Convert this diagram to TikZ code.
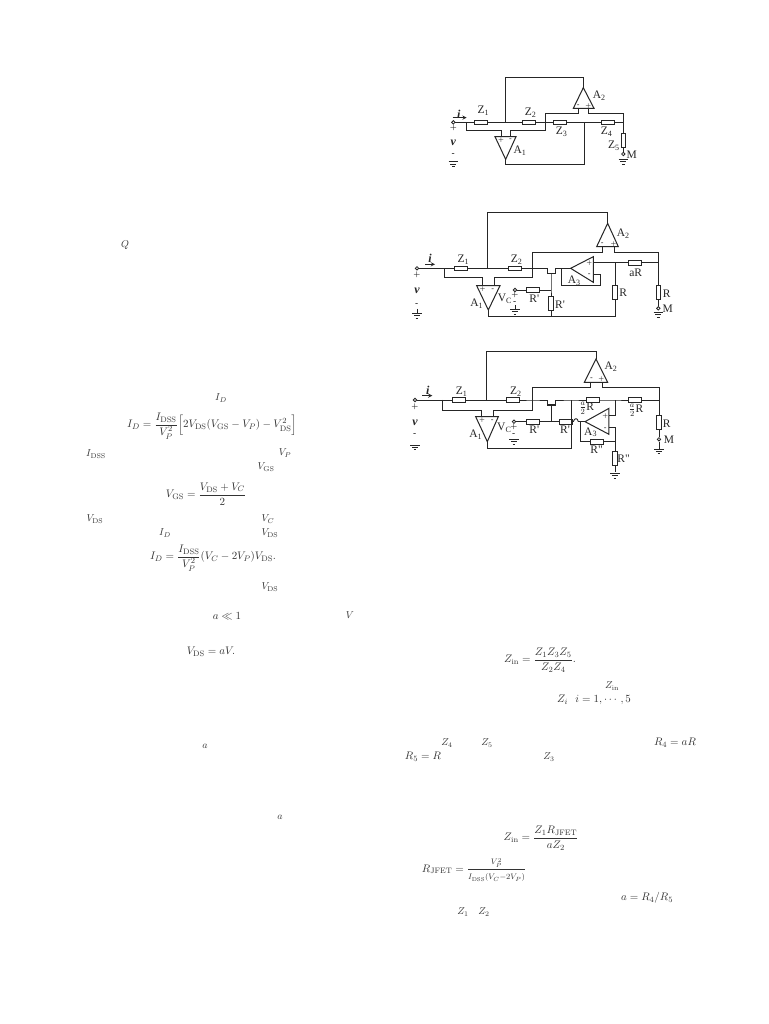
\documentclass[tikz,border=0pt]{standalone}
\usepackage{fontspec}
\usepackage{amsmath,amssymb}
\newfontfamily\serf{Liberation Serif}
\tikzset{
  wire/.style={draw=black!85,line width=0.9pt},
  amp/.style={draw=black!85,line width=1pt,fill=white},
  resh/.style={draw=black!85,line width=0.8pt,fill=white,rectangle,inner sep=0pt,minimum width=13pt,minimum height=4.6pt},
  resv/.style={draw=black!85,line width=0.8pt,fill=white,rectangle,inner sep=0pt,minimum width=4.6pt,minimum height=14pt},
  term/.style={draw=black!85,line width=0.8pt,fill=white,circle,inner sep=0pt,minimum size=3.4pt},
  lab/.style={inner sep=0pt,font=\fontsize{11.5}{12}\selectfont\serf,text=black!85},
  bit/.style={inner sep=0pt,font=\fontsize{12}{12}\selectfont\serf\bfseries\itshape,text=black!85},
  sgn/.style={inner sep=0pt,font=\fontsize{7}{7}\selectfont\bfseries,text=black!85},
  tiny/.style={inner sep=0pt,font=\fontsize{5.5}{5}\selectfont\bfseries,text=black!85},
  eq/.style={inner sep=0pt,font=\fontsize{10}{12}\selectfont,text=black!80},
  eqb/.style={inner sep=0pt,font=\fontsize{11.3}{13}\selectfont,text=black!80},
  gndsym/.pic={\draw[line width=0.8pt,draw=black!85] (-14,0)--(14,0) (-9,7)--(9,7) (-4,14)--(4,14);}
}
\begin{document}
\begin{tikzpicture}[x=1pt,y=-1pt]
\useasboundingbox (0,0) rectangle (768,1024);
\fill[white] (0,0) rectangle (768,1024);

% ---------- circuit 1
\begin{scope}[shift={(440,65)},x=0.3333pt,y=-0.3333pt]
\coordinate (a1) at (40,172); \coordinate (a2) at (78,172); \coordinate (a3) at (195,172);
\coordinate (a4) at (315,172); \coordinate (a5) at (433,172); \coordinate (a6) at (550,172);
\coordinate (a7) at (78,197); \coordinate (a8) at (183,197); \coordinate (a9) at (183,215);
\coordinate (a10) at (212,215); \coordinate (a11) at (212,197); \coordinate (a12) at (315,197);
\coordinate (a13) at (197,283); \coordinate (a14) at (197,297); \coordinate (a15) at (433,297);
\coordinate (a16) at (430,68); \coordinate (a17) at (430,38); \coordinate (a18) at (195,38);
\coordinate (a19) at (415,130); \coordinate (a20) at (415,145); \coordinate (a21) at (315,145);
\coordinate (a22) at (445,130); \coordinate (a23) at (445,145); \coordinate (a24) at (550,145);
\node[term] (t1) at (40,172) {};
\node[term] (m1) at (550,267) {};
\node[resh] (z1) at (123,172) {};
\node[resh] (z2) at (268,172) {};
\node[resh] (z3) at (359,172) {};
\node[resh] (z4) at (505,172) {};
\node[resv] (z5) at (550,227) {};
\draw[wire] (t1)--(z1)--(z2)--(z3)--(z4)--(a6)--(z5)--(m1);
\draw[wire] (a2)--(a7)--(a8)--(a9) (a10)--(a11)--(a12)--(a4);
\draw[wire] (a13)--(a14)--(a15)--(a5);
\draw[wire] (a16)--(a17)--(a18)--(a3);
\draw[wire] (a19)--(a20)--(a21)--(a4) (a22)--(a23)--(a24)--(a6);
\draw[amp] (165,215)--(228,215)--(a13)--cycle;
\draw[amp] (400,130)--(462,130)--(a16)--cycle;
\node[tiny] (p1) at (183,224) {+}; \node[tiny] (n1) at (212,224) {-};
\node[tiny] (p2) at (415,122) {-}; \node[tiny] (n2) at (445,122) {+};
\pic at (550,283) {gndsym};
\pic at (40,290) {gndsym};
\node[sgn] (t2) at (40,188) {+};
\node[sgn] (t3) at (40,268) {-};
\draw[wire,-stealth] (38,158)--(80,158);
\node[bit] (li) at (56,148) {i};
\node[bit] (lv) at (40,232) {v};
\node[lab] (l1) at (130,138) {Z\textsubscript{1}};
\node[lab] (l2) at (272,143) {Z\textsubscript{2}};
\node[lab] (l3) at (365,200) {Z\textsubscript{3}};
\node[lab] (l4) at (500,200) {Z\textsubscript{4}};
\node[lab] (l5) at (522,242) {Z\textsubscript{5}};
\node[lab] (l6) at (575,270) {M};
\node[lab] (l7) at (240,258) {A\textsubscript{1}};
\node[lab] (l8) at (478,92) {A\textsubscript{2}};
\end{scope}

% ---------- circuit 2
\begin{scope}[shift={(405,205)},x=0.3333pt,y=-0.3333pt]
\node[term] (bt) at (36,190) {};
\coordinate (b1) at (117,190); \coordinate (b2) at (248,190); \coordinate (b3) at (383,190);
\coordinate (b4) at (428,190); \coordinate (b5) at (428,205); \coordinate (b6) at (452,205);
\coordinate (b7) at (452,190); \coordinate (b8) at (470,190); \coordinate (b9) at (497,190);
\coordinate (b10) at (117,218); \coordinate (b11) at (232,218); \coordinate (b12) at (232,242);
\coordinate (b13) at (268,242); \coordinate (b14) at (268,218); \coordinate (b15) at (383,218);
\coordinate (b16) at (250,315); \coordinate (b17) at (250,335); \coordinate (b18) at (630,335);
\coordinate (b19) at (248,22); \coordinate (b20) at (608,22); \coordinate (b21) at (608,55);
\coordinate (b22) at (592,125); \coordinate (b23) at (592,143); \coordinate (b24) at (383,143);
\coordinate (b25) at (628,125); \coordinate (b26) at (628,143); \coordinate (b27) at (760,143);
\coordinate (b28) at (760,173); \coordinate (b29) at (630,173); \coordinate (b30) at (565,173);
\coordinate (b31) at (470,240); \coordinate (b32) at (585,240); \coordinate (b33) at (585,207);
\coordinate (b34) at (565,207); \coordinate (b35) at (438,205); \coordinate (b36) at (438,255);
\coordinate (b37) at (438,335);
\node[resh] (bz1) at (167,190) {};
\node[resh] (bz2) at (330,190) {};
\node[resh] (br1) at (385,255) {};
\node[resv] (br2) at (438,294) {};
\node[resh] (bar) at (689,173) {};
\node[resv] (br3) at (630,262) {};
\node[resv] (br4) at (760,262) {};
\node[term] (bm) at (760,310) {};
\node[term] (bvc) at (330,255) {};
\draw[wire] (bt)--(bz1)--(bz2)--(b3)--(b4)--(b5)--(b6)--(b7)--(b9);
\draw[wire] (b1)--(b10)--(b11)--(b12) (b13)--(b14)--(b15)--(b3);
\draw[wire] (b16)--(b17)--(b18)--(br3)--(b29);
\draw[wire] (b2)--(b19)--(b20)--(b21);
\draw[wire] (b22)--(b23)--(b24)--(b3) (b25)--(b26)--(b27)--(b28)--(br4)--(bm);
\draw[wire] (b30)--(bar)--(b28);
\draw[wire] (b8)--(b31)--(b32)--(b33)--(b34);
\draw[wire] (b35)--(b36)--(br2)--(b37) (bvc)--(br1)--(b36);
\draw[amp] (215,242)--(285,242)--(b16)--cycle;
\draw[amp] (575,125)--(640,125)--(b21)--cycle;
\draw[amp] (565,155)--(565,232)--(b9)--cycle;
\draw[wire,line width=1.3pt] (b5)--(b6);
\node[tiny] (bp1) at (233,253) {+}; \node[tiny] (bn1) at (264,253) {-};
\node[tiny] (bp2) at (592,116) {-}; \node[tiny] (bn2) at (626,116) {+};
\node[tiny] (bp3) at (553,175) {+}; \node[tiny] (bn3) at (553,210) {-};
\pic at (760,322) {gndsym};
\pic at (36,325) {gndsym};
\pic at (330,313) {gndsym};
\draw[wire] (36,312)--(36,325) (330,300)--(330,313);
\node[sgn] (bt2) at (36,208) {+};
\node[sgn] (bt3) at (36,300) {-};
\node[sgn] (bt4) at (330,270) {+};
\node[sgn] (bt5) at (330,294) {-};
\draw[wire,-stealth] (60,178)--(90,178);
\node[bit] (bli) at (75,160) {i};
\node[bit] (blv) at (36,258) {v};
\node[lab] (bl1) at (175,165) {Z\textsubscript{1}};
\node[lab] (bl2) at (335,165) {Z\textsubscript{2}};
\node[lab] (bl3) at (215,295) {A\textsubscript{1}};
\node[lab] (bl4) at (300,282) {V\textsubscript{C}};
\node[lab] (bl5) at (388,282) {R'};
\node[lab] (bl6) at (465,298) {R'};
\node[lab] (bl7) at (508,227) {A\textsubscript{3}};
\node[lab] (bl8) at (692,203) {aR};
\node[lab] (bl9) at (655,263) {R};
\node[lab] (bl10) at (785,265) {R};
\node[lab] (bl11) at (788,312) {M};
\node[lab] (bl12) at (655,87) {A\textsubscript{2}};
\end{scope}

% ---------- circuit 3
\begin{scope}[shift={(405,345)},x=0.3333pt,y=-0.3333pt]
\node[term] (ct) at (30,165) {};
\coordinate (c1) at (112,165); \coordinate (c2) at (245,165); \coordinate (c3) at (382,165);
\coordinate (c4) at (428,165); \coordinate (c5) at (428,180); \coordinate (c6) at (452,180);
\coordinate (c7) at (452,165); \coordinate (c8) at (500,165); \coordinate (c9) at (630,165);
\coordinate (c10) at (762,165); \coordinate (c11) at (112,195); \coordinate (c12) at (228,195);
\coordinate (c13) at (228,215); \coordinate (c14) at (264,215); \coordinate (c15) at (264,195);
\coordinate (c16) at (382,195); \coordinate (c17) at (247,290); \coordinate (c18) at (247,310);
\coordinate (c19) at (500,310); \coordinate (c20) at (245,18); \coordinate (c21) at (573,18);
\coordinate (c22) at (573,42); \coordinate (c23) at (555,112); \coordinate (c24) at (555,128);
\coordinate (c25) at (382,128); \coordinate (c26) at (592,112); \coordinate (c27) at (592,128);
\coordinate (c28) at (762,128); \coordinate (c29) at (438,180); \coordinate (c30) at (438,230);
\coordinate (c31) at (612,210); \coordinate (c32) at (630,210); \coordinate (c33) at (612,248);
\coordinate (c34) at (630,248); \coordinate (c35) at (630,290); \coordinate (c36) at (525,230);
\coordinate (c37) at (525,290); \coordinate (c38) at (630,380); \coordinate (c39) at (540,230);
\coordinate (c40) at (505,230); \coordinate (c41) at (520,230);
\node[resh] (cz1) at (163,165) {};
\node[resh] (cz2) at (325,165) {};
\node[resh] (cr1) at (563,165) {};
\node[resh] (cr2) at (691,165) {};
\node[resh] (cr3) at (385,230) {};
\node[resh] (cr4) at (482,230) {};
\node[resh] (cr5) at (576,290) {};
\node[resv] (cr6) at (630,340) {};
\node[resv] (cr7) at (762,233) {};
\node[term] (cm) at (762,283) {};
\node[term] (cvc) at (327,230) {};
\draw[wire] (ct)--(cz1)--(cz2)--(c3)--(c4)--(c5)--(c6)--(c7)--(c8)--(cr1)--(c9)--(cr2)--(c10)--(cr7)--(cm);
\draw[wire] (c1)--(c11)--(c12)--(c13) (c14)--(c15)--(c16)--(c3);
\draw[wire] (c17)--(c18)--(c19)--(c8);
\draw[wire] (c2)--(c20)--(c21)--(c22);
\draw[wire] (c23)--(c24)--(c25)--(c3) (c26)--(c27)--(c28)--(c10);
\draw[wire] (c29)--(c30) (cvc)--(cr3)--(c30)--(cr4)--(c40);
\draw[wire] (c40) .. controls (508,218) and (518,218) .. (c41);
\draw[wire] (c41)--(c39);
\draw[wire] (c36)--(c37)--(cr5)--(c35)--(c34)--(c33);
\draw[wire] (c35)--(cr6)--(c38);
\draw[wire] (c31)--(c32)--(c9);
\draw[amp] (212,215)--(280,215)--(c17)--cycle;
\draw[amp] (538,112)--(608,112)--(c22)--cycle;
\draw[amp] (612,190)--(612,268)--(c39)--cycle;
\draw[wire,line width=1.3pt] (c5)--(c6);
\node[tiny] (cp1) at (231,226) {+}; \node[tiny] (cn1) at (262,226) {-};
\node[tiny] (cp2) at (560,102) {-}; \node[tiny] (cn2) at (589,102) {+};
\node[tiny] (cp3) at (601,212) {+}; \node[tiny] (cn3) at (601,250) {-};
\pic at (762,312) {gndsym};
\pic at (30,300) {gndsym};
\pic at (327,283) {gndsym};
\pic at (630,385) {gndsym};
\draw[wire] (762,290)--(762,312);
\node[sgn] (ct2) at (30,185) {+};
\node[sgn] (ct3) at (30,270) {-};
\node[sgn] (ct4) at (327,245) {+};
\node[sgn] (ct5) at (327,268) {-};
\draw[wire,-stealth] (52,152)--(82,152);
\node[bit] (cli) at (68,135) {i};
\node[bit] (clv) at (30,232) {v};
\node[lab] (cl1) at (170,140) {Z\textsubscript{1}};
\node[lab] (cl2) at (333,140) {Z\textsubscript{2}};
\node[lab] (cl3) at (212,270) {A\textsubscript{1}};
\node[lab] (cl4) at (298,248) {V\textsubscript{C}};
\node[lab] (cl5) at (388,255) {R'};
\node[lab] (cl6) at (480,255) {R'};
\node[lab] (cl7) at (557,262) {A\textsubscript{3}};
\node[lab] (cl8) at (545,190) {$\frac{a}{2}$R};
\node[lab] (cl9) at (693,197) {$\frac{a}{2}$R};
\node[lab] (cl10) at (575,313) {R"};
\node[lab] (cl11) at (656,340) {R"};
\node[lab] (cl12) at (785,235) {R};
\node[lab] (cl13) at (792,283) {M};
\node[lab] (cl14) at (618,65) {A\textsubscript{2}};
\end{scope}

% ---------- left column text
\node[eq] (q) at (125,245) {$Q$};
\node[eq] (e1) at (221,398) {$I_D$};
\node[eqb] (e2) at (212,426) {$I_D = \dfrac{I_{\mathrm{DSS}}}{V_P^2}\Bigl[2V_{\mathrm{DS}}(V_{\mathrm{GS}}-V_P)-V_{\mathrm{DS}}^2\Bigr]$};
\node[eq] (e3) at (96,454) {$I_{\mathrm{DSS}}$};
\node[eq] (e4) at (285,453) {$V_P$};
\node[eq] (e5) at (266,467) {$V_{\mathrm{GS}}$};
\node[eqb] (e6) at (206,494) {$V_{\mathrm{GS}} = \dfrac{V_{\mathrm{DS}}+V_C}{2}$};
\node[eq] (e7) at (95,519) {$V_{\mathrm{DS}}$};
\node[eq] (e8) at (268,519) {$V_C$};
\node[eq] (e9) at (165,533) {$I_D$};
\node[eq] (e10) at (270,533) {$V_{\mathrm{DS}}$};
\node[eqb] (e11) at (213,558) {$I_D = \dfrac{I_{\mathrm{DSS}}}{V_P^2}(V_C-2V_P)V_{\mathrm{DS}}.$};
\node[eq] (e12) at (270,587) {$V_{\mathrm{DS}}$};
\node[eqb] (e13) at (227,616) {$a\ll 1$};
\node[eq] (e14) at (350,615) {$V$};
\node[eqb] (e15) at (211,652) {$V_{\mathrm{DS}} = aV.$};
\node[eq] (e16) at (205,746) {$a$};
\node[eq] (e17) at (280,817) {$a$};

% ---------- right column text
\node[eqb] (f1) at (540,660) {$Z_{\mathrm{in}} = \dfrac{Z_1Z_3Z_5}{Z_2Z_4}.$};
\node[eq] (f2) at (612,686) {$Z_{\mathrm{in}}$};
\node[eqb] (f3) at (594,700) {$Z_i\ \ i=1,\cdots,5$};
\node[eq] (f4) at (447,743) {$Z_4$};
\node[eq] (f5) at (487,743) {$Z_5$};
\node[eqb] (f6) at (675,743) {$R_4=aR$};
\node[eqb] (f7) at (423,757) {$R_5=R$};
\node[eq] (f8) at (549,757) {$Z_3$};
\node[eqb] (f9) at (541,838) {$Z_{\mathrm{in}} = \dfrac{Z_1R_{\mathrm{JFET}}}{aZ_2}$};
\node[eqb] (f10) at (474,870) {$R_{\mathrm{JFET}} = \dfrac{\scriptstyle V_P^2}{\scriptstyle I_{\mathrm{DSS}}(V_C-2V_P)}$};
\node[eqb] (f11) at (647,898) {$a=R_4/R_5$};
\node[eq] (f12) at (463,912) {$Z_1$};
\node[eq] (f13) at (484,912) {$Z_2$};
\end{tikzpicture}
\end{document}
